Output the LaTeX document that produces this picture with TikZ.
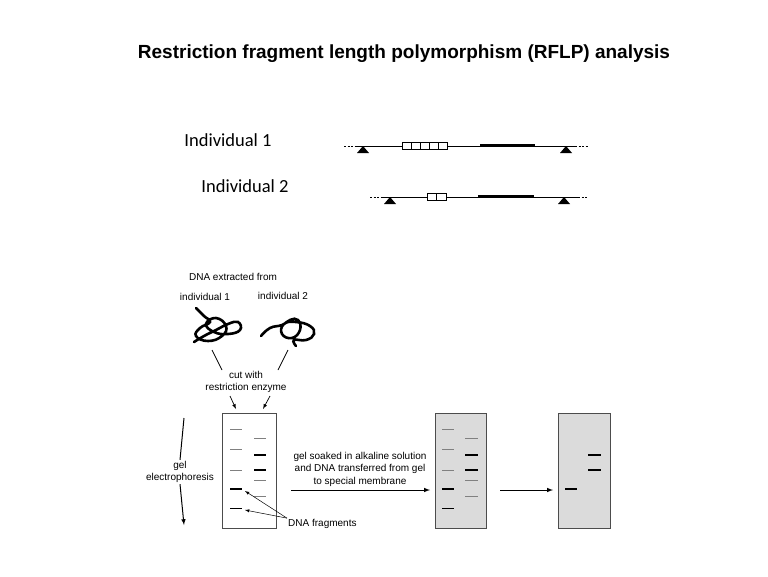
\documentclass[tikz,border=0pt]{standalone}
\usepackage{fontspec}
\setmainfont{Liberation Sans}
\newfontfamily\carlitofont{Carlito}
\begin{document}
\begin{tikzpicture}[x=1pt,y=-1pt,
  txt/.style={font=\fontsize{10}{12.5}\selectfont,inner sep=1pt,align=center},
  gel/.style={draw=black!70,line width=0.8pt},
  thin/.style={draw=black!50,line width=0.9pt},
  thick/.style={draw=black,line width=2.6pt},
  tri/.style={fill=black},
  arr/.style={-latex,line width=1pt}]
\useasboundingbox (0,0) rectangle (768,576);
\node[font=\bfseries\fontsize{19}{22}\selectfont] (title) at (404,54) {Restriction fragment length polymorphism (RFLP) analysis};
\node[font=\carlitofont\fontsize{18.5}{21}\selectfont] (i1) at (228,140) {Individual 1};
\node[font=\carlitofont\fontsize{18.5}{21}\selectfont] (i2) at (245,186) {Individual 2};
% map line 1
\draw[line width=1pt,dash pattern=on 2pt off 1.5pt] (344,146)--(355,146) (575,146)--(588,146);
\draw[line width=1pt] (355,146)--(575,146);
\draw[line width=1pt,fill=white] (402,142.5) rectangle (447,149.5);
\foreach \x in {411,420,429,438} \draw[line width=1pt] (\x,142.5)--(\x,149.5);
\draw[line width=2.4pt] (480,145.5)--(535,145.5);
\fill[tri] (363,146)--(357,153)--(369,153)--cycle;
\fill[tri] (566,146)--(560,153)--(572,153)--cycle;
% map line 2
\draw[line width=1pt,dash pattern=on 2pt off 1.5pt] (370,197)--(382,197) (578,197)--(588,197);
\draw[line width=1pt] (382,197)--(578,197);
\draw[line width=1pt,fill=white] (427,193.5) rectangle (446,200.5);
\draw[line width=1pt] (436.5,193.5)--(436.5,200.5);
\draw[line width=2.4pt] (478,196)--(534,196);
\fill[tri] (390,197)--(384,204)--(396,204)--cycle;
\fill[tri] (564,197)--(558,204)--(570,204)--cycle;
% DNA labels
\node[txt] (ext) at (233,277) {DNA extracted from};
\node[txt] (d1) at (205,297) {individual 1};
\node[txt] (d2) at (283,296) {individual 2};
% DNA blobs
\draw[line width=2.6pt,line cap=round] plot[smooth,tension=0.8] coordinates{(196,308)(204,316)(210,322)(200,328)(196,336)(208,341)(222,336)(226,326)(216,318)(206,324)(214,332)(228,334)(240,330)(238,322)(228,324)(216,330)(204,336)(194,342)};
\draw[line width=2.6pt,line cap=round] plot[smooth,tension=0.8] coordinates{(261,336)(270,328)(282,325)(290,320)(298,320)(300,330)(292,338)(282,334)(284,324)(296,322)(310,326)(314,334)(306,340)(294,340)(296,346)};
% cut arrows
\draw[line width=0.7pt] (212,350)--(222,370);
\draw[line width=0.7pt] (288,350)--(278,370);
\node[txt] (cut) at (246,382) {cut with\\restriction enzyme};
\coordinate (g1a) at (236,409);
\coordinate (g1b) at (263,409);
\draw[line width=0.7pt,-latex] (230,396)--(g1a);
\draw[line width=0.7pt,-latex] (270,396)--(g1b);
% gel electrophoresis arrow
\coordinate (ea) at (184,418); \coordinate (eb) at (184,525);
\node[txt] (ge) at (180,472) {gel\\electrophoresis};
\draw[line width=1pt] (ea)--(ge.north);
\draw[arr] (ge.south)--(eb);
% gel 1
\draw[gel,fill=white] (222,413) rectangle (276,528);
\foreach \y in {429,449,470} \draw[thin] (230,\y)--(242,\y);
\draw[thick] (230,489)--(242,489);
\draw[line width=1pt] (230,508)--(242,508);
\foreach \y in {438,480,496} \draw[thin] (254,\y)--(266,\y);
\foreach \y in {455,470} \draw[thick] (254,\y)--(266,\y);
\node[txt,anchor=west] (frag) at (287,524) {DNA fragments};
\draw[line width=0.5pt,-latex] (frag.north west)--(245,491);
\draw[line width=0.5pt,-latex] (frag.north west)--(245,510);
% transfer arrow
\node[txt] (soak) at (360,469) {gel soaked in alkaline solution\\and DNA transferred from gel\\to special membrane};
\coordinate (t1) at (291,490); \coordinate (t2) at (430,490);
\draw[arr] (t1)--(t2);
% gel 2
\draw[gel,fill=black!14] (435,413) rectangle (486,528);
\foreach \y in {429,449,470} \draw[thin] (442,\y)--(454,\y);
\draw[thick] (442,489)--(454,489);
\draw[line width=1pt] (442,508)--(454,508);
\foreach \y in {438,480,496} \draw[thin] (465,\y)--(478,\y);
\foreach \y in {455,470} \draw[thick] (465,\y)--(478,\y);
\coordinate (t3) at (500,490); \coordinate (t4) at (553,490);
\draw[arr] (t3)--(t4);
% gel 3
\draw[gel,fill=black!14] (558,413) rectangle (610,528);
\draw[thick] (565,489)--(577,489);
\foreach \y in {455,470} \draw[thick] (588,\y)--(601,\y);
\end{tikzpicture}
\end{document}
